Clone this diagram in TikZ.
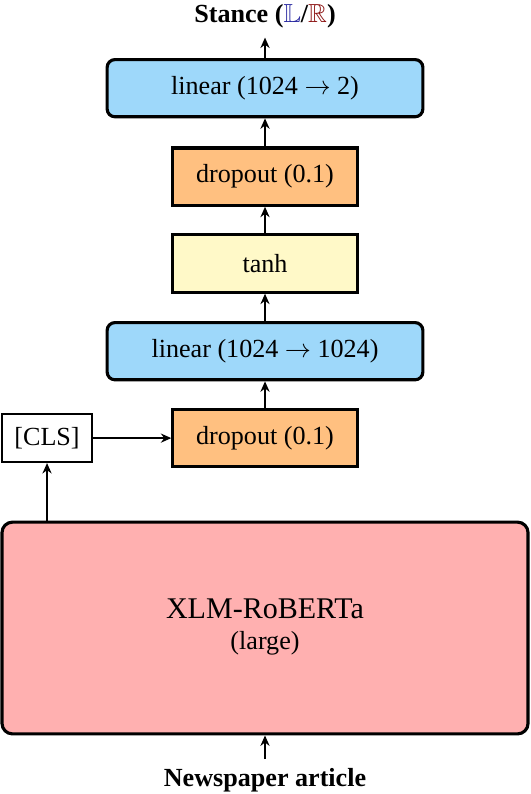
\documentclass[tikz,border=0pt]{standalone}
\usepackage{amssymb}
\usepackage{fontspec}
\setmainfont{Liberation Serif}
\usetikzlibrary{arrows.meta}

\definecolor{linblue}{RGB}{158,216,250}
\definecolor{dropor}{RGB}{255,192,128}
\definecolor{tanhyel}{RGB}{255,249,200}
\definecolor{xlmpink}{RGB}{255,176,176}
\definecolor{leftblue}{RGB}{40,40,160}
\definecolor{rightred}{RGB}{140,20,20}

\begin{document}
\begin{tikzpicture}[
    layer/.style={draw, line width=1.2pt, minimum height=0.77cm, inner sep=0pt},
    wide/.style={layer, rounded corners=3pt, minimum width=4.25cm, fill=linblue},
    narrow/.style={layer, minimum width=2.48cm},
    flow/.style={-{Stealth[length=4pt,width=3.5pt]}, line width=0.7pt}
]
                        \useasboundingbox (0,0) rectangle (7.134,10.687);

                        % encoder
                        \node[layer, rounded corners=4pt, minimum width=7.08cm, minimum height=2.85cm, fill=xlmpink] (xlm) at (3.567,2.234)
                            {\begin{tabular}{c}{\fontsize{11.5}{13}\selectfont XLM-RoBERTa}\\(large)\end{tabular}};
                        \node[font=\bfseries, anchor=base] (article) at (3.567,0.1) {Newspaper article};
                        \node[draw, line width=0.6pt, minimum width=1.21cm, minimum height=0.65cm, inner sep=0pt] (cls) at (0.633,4.79) {[CLS]};

                        % classification head
                        \node[narrow, fill=dropor] (drop1) at (3.567,4.79) {dropout (0.1)};
                        \node[wide] (lin1) at (3.567,5.96) {linear (1024 $\rightarrow$ 1024)};
                        \node[narrow, fill=tanhyel] (tanh) at (3.567,7.14) {tanh};
                        \node[narrow, fill=dropor] (drop2) at (3.567,8.31) {dropout (0.1)};
                        \node[wide] (lin2) at (3.567,9.50) {linear (1024 $\rightarrow$ 2)};
                        \node[font=\bfseries, anchor=base] (stance) at (3.567,10.38)
                            {Stance (\textcolor{leftblue}{$\mathbb{L}$}/\textcolor{rightred}{$\mathbb{R}$})};

                        \draw[flow] (article) -- (xlm);
                        \draw[flow] (xlm.north -| cls) -- (cls);
                        \draw[flow] (cls) -- (drop1);
                        \draw[flow] (drop1) -- (lin1);
                        \draw[flow] (lin1) -- (tanh);
                        \draw[flow] (tanh) -- (drop2);
                        \draw[flow] (drop2) -- (lin2);
                        \draw[flow] (lin2) -- (stance);
                    \end{tikzpicture}
\end{document}
